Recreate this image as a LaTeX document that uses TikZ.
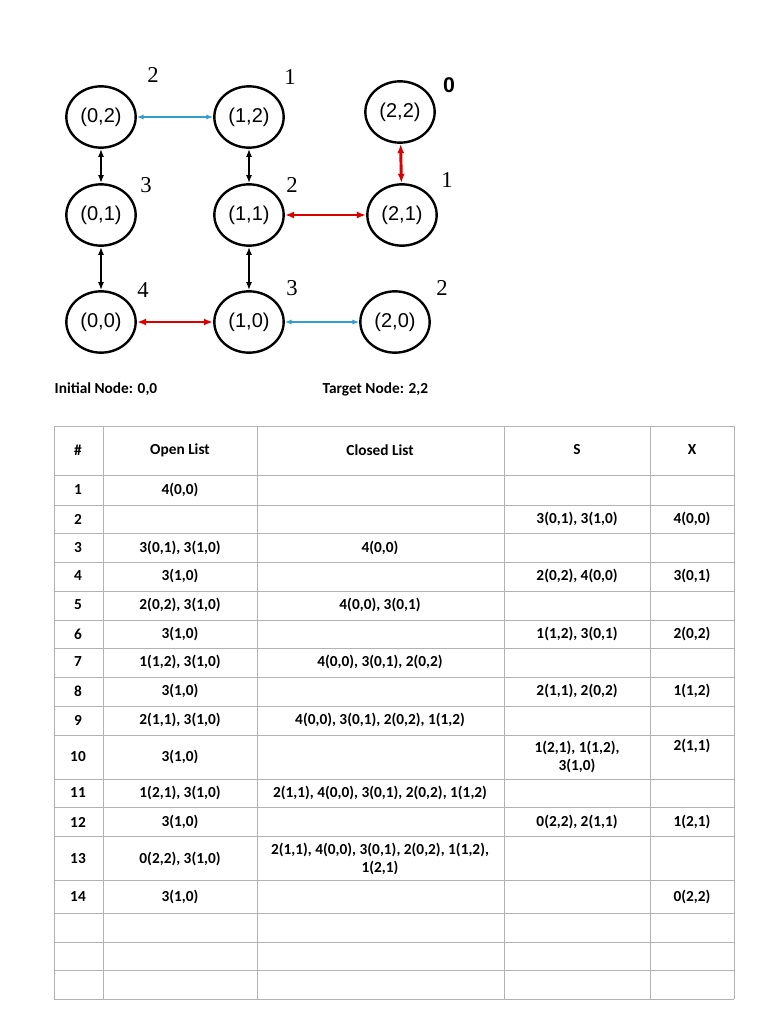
\documentclass[tikz,border=0pt]{standalone}
\usepackage{fontspec}
\setmainfont{Carlito}
\newfontfamily\numfont{Liberation Serif}
\newfontfamily\lblfont{Liberation Sans}
\usetikzlibrary{shapes.geometric,arrows.meta}
\newcommand\tabrow[6]{%
  \node[cell] (ra#2) at (78,#1) {#2};
  \node[cell] (rb#2) at (180,#1) {#3};
  \node[cell] (rc#2) at (380,#1) {#4};
  \node[cell] (rd#2) at (577,#1) {#5};
  \node[cell] (re#2) at (692,#1) {#6};}
\begin{document}
\begin{tikzpicture}[x=0.75pt,y=-0.75pt,
  st/.style={draw,line width=1.8pt,ellipse,minimum width=52pt,minimum height=46pt,inner sep=0pt,font=\lblfont\fontsize{15}{15}\selectfont},
  wt/.style={font=\numfont\fontsize{17}{17}\selectfont},
  bk/.style={{Latex[length=6pt]}-{Latex[length=6pt]},line width=1.6pt},
  rd/.style={{Latex[length=7pt]}-{Latex[length=7pt]},line width=2.2pt,red!85!black},
  bl/.style={{Latex[length=5pt]}-{Latex[length=5pt]},line width=0.9pt,blue!30!cyan!60!gray},
  cell/.style={font=\bfseries\fontsize{11.5}{13}\selectfont,align=center}]
\useasboundingbox (0,0) rectangle (771,1024);
\node[st] (n02) at (101,117) {(0,2)};
\node[st] (n12) at (249,117) {(1,2)};
\node[st] (n22) at (400,112) {(2,2)};
\node[st] (n01) at (101,215) {(0,1)};
\node[st] (n11) at (249,215) {(1,1)};
\node[st] (n21) at (402,215) {(2,1)};
\node[st] (n00) at (101,322) {(0,0)};
\node[st] (n10) at (249,322) {(1,0)};
\node[st] (n20) at (395,322) {(2,0)};
\node[wt] (w02) at (153,75) {2};
\node[wt] (w12) at (290,77) {1};
\node[wt,font=\lblfont\bfseries\fontsize{16}{16}\selectfont] (w22) at (449,85) {0};
\node[wt] (w01) at (146,185) {3};
\node[wt] (w11) at (292,185) {2};
\node[wt] (w21) at (447,180) {1};
\node[wt] (w00) at (143,290) {4};
\node[wt] (w10) at (292,288) {3};
\node[wt] (w20) at (442,288) {2};
\draw[bl] (n02) -- (n12);
\draw[bk] (n02) -- (n01);
\draw[bk] (n01) -- (n00);
\draw[bk] (n12) -- (n11);
\draw[bk] (n11) -- (n10);
\draw[rd] (n11) -- (n21);
\draw[rd] (n22) -- (n21);
\draw[rd] (n00) -- (n10);
\draw[bl] (n10) -- (n20);
\node[cell,anchor=west] (init) at (50,389) {Initial Node: 0,0};
\node[cell,anchor=west] (targ) at (318,389) {Target Node: 2,2};
\foreach \y in {426,475,505,533,562,591,620,648,677,706,735,779,807,836,880,913,942,970,999}
  \draw[gray!60,line width=0.6pt] (54,\y) -- (734,\y);
\foreach \x in {54,103,257,504,650,734}
  \draw[gray!60,line width=0.6pt] (\x,426) -- (\x,999);
\node[cell] (h1) at (78,450) {\#};
\node[cell] (h2) at (180,450) {Open List};
\node[cell] (h3) at (380,450) {Closed List};
\node[cell] (h4) at (577,450) {S};
\node[cell] (h5) at (692,450) {X};
\tabrow{490}{1}{4(0,0)}{}{}{}
\tabrow{519}{2}{}{}{3(0,1), 3(1,0)}{4(0,0)}
\tabrow{548}{3}{3(0,1), 3(1,0)}{4(0,0)}{}{}
\tabrow{576}{4}{3(1,0)}{}{2(0,2), 4(0,0)}{3(0,1)}
\tabrow{605}{5}{2(0,2), 3(1,0)}{4(0,0), 3(0,1)}{}{}
\tabrow{634}{6}{3(1,0)}{}{1(1,2), 3(0,1)}{2(0,2)}
\tabrow{662}{7}{1(1,2), 3(1,0)}{4(0,0), 3(0,1), 2(0,2)}{}{}
\tabrow{691}{8}{3(1,0)}{}{2(1,1), 2(0,2)}{1(1,2)}
\tabrow{720}{9}{2(1,1), 3(1,0)}{4(0,0), 3(0,1), 2(0,2), 1(1,2)}{}{}
\tabrow{793}{11}{1(2,1), 3(1,0)}{2(1,1), 4(0,0), 3(0,1), 2(0,2), 1(1,2)}{}{}
\tabrow{822}{12}{3(1,0)}{}{0(2,2), 2(1,1)}{1(2,1)}
\tabrow{859}{13}{0(2,2), 3(1,0)}{2(1,1), 4(0,0), 3(0,1), 2(0,2), 1(1,2),\\1(2,1)}{}{}
\tabrow{897}{14}{3(1,0)}{}{}{0(2,2)}
\node[cell] (r10a) at (78,757) {10};
\node[cell] (r10b) at (180,757) {3(1,0)};
\node[cell] (r10d) at (577,757) {1(2,1), 1(1,2),\\3(1,0)};
\node[cell] (r10e) at (692,746) {2(1,1)};
\end{tikzpicture}
\end{document}
